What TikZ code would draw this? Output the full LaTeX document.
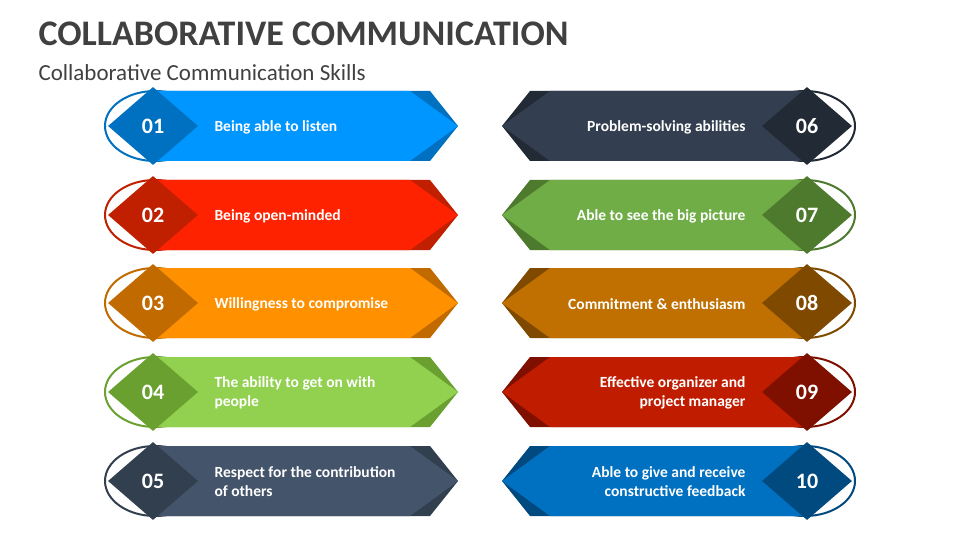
\documentclass[tikz,border=0pt]{standalone}
\usepackage{fontspec}
\setmainfont{Carlito}
\usetikzlibrary{shapes.geometric}
\definecolor{c1}{HTML}{0096FF}\definecolor{d1}{HTML}{0070C0}
\definecolor{c2}{HTML}{FF2200}\definecolor{d2}{HTML}{C02000}
\definecolor{c3}{HTML}{FF9000}\definecolor{d3}{HTML}{C06A00}
\definecolor{c4}{HTML}{92D050}\definecolor{d4}{HTML}{6AA030}
\definecolor{c5}{HTML}{44546A}\definecolor{d5}{HTML}{323F4F}
\definecolor{c6}{HTML}{333F50}\definecolor{d6}{HTML}{222A35}
\definecolor{c7}{HTML}{70AD47}\definecolor{d7}{HTML}{4E7A2E}
\definecolor{c8}{HTML}{C07000}\definecolor{d8}{HTML}{7F4A00}
\definecolor{c9}{HTML}{C01C00}\definecolor{d9}{HTML}{7F1000}
\definecolor{c10}{HTML}{0070C0}\definecolor{d10}{HTML}{004A80}
\definecolor{titlegray}{HTML}{404040}
\begin{document}
\begin{tikzpicture}[x=1pt,y=-1pt,
 num node/.style={diamond,minimum width=90pt,minimum height=78pt,inner sep=0pt,
   text=white,font=\fontsize{22}{22}\selectfont\bfseries},
 label node/.style={text=white,font=\fontsize{15.5}{19}\selectfont\bfseries}]
\useasboundingbox (0,0) rectangle (960,540);
%title
  \node[anchor=west,text=titlegray,font=\fontsize{36}{36}\selectfont\bfseries] (title) at (35,34) {COLLABORATIVE COMMUNICATION};
  \node[anchor=west,text=titlegray,font=\fontsize{23}{23}\selectfont] (sub) at (35,73) {Collaborative Communication Skills};
%left column
  \foreach \n/\y/\t in {1/126/Being able to listen,2/215/Being open-minded,
    3/303/Willingness to compromise,4/392/The ability to get on with\\people,
    5/481/Respect for the contribution\\of others}{
    \draw[d\n,line width=2pt] (155,\y) ellipse (50 and 35);
    \fill[d\n] (155,\y-35) -- (430,\y-35) -- (458,\y) -- (430,\y+35) -- (155,\y+35) -- cycle;
    \fill[c\n] (155,\y-35) -- (410,\y-35) -- (458,\y) -- (410,\y+35) -- (155,\y+35) -- cycle;
    \node[num node,fill=d\n] (n\n) at (153,\y) {0\n};
    \node[label node,align=left,anchor=west] (t\n) at (211,\y+1) {\t};
  }
%right column
  \foreach \n/\y/\t in {6/126/Problem-solving abilities,7/215/Able to see the big picture,
    8/303/Commitment \& enthusiasm,9/392/Effective organizer and\\project manager,
    10/481/Able to give and receive\\constructive feedback}{
    \draw[d\n,line width=2pt] (805,\y) ellipse (50 and 35);
    \fill[d\n] (805,\y-35) -- (530,\y-35) -- (502,\y) -- (530,\y+35) -- (805,\y+35) -- cycle;
    \fill[c\n] (805,\y-35) -- (550,\y-35) -- (502,\y) -- (550,\y+35) -- (805,\y+35) -- cycle;
    \node[label node,align=right,anchor=east] (t\n) at (749,\y+1) {\t};
  }
  \node[num node,fill=d6] (n6) at (807,126) {06};
  \node[num node,fill=d7] (n7) at (807,215) {07};
  \node[num node,fill=d8] (n8) at (807,303) {08};
  \node[num node,fill=d9] (n9) at (807,392) {09};
  \node[num node,fill=d10] (n10) at (807,481) {10};
\end{tikzpicture}
\end{document}
